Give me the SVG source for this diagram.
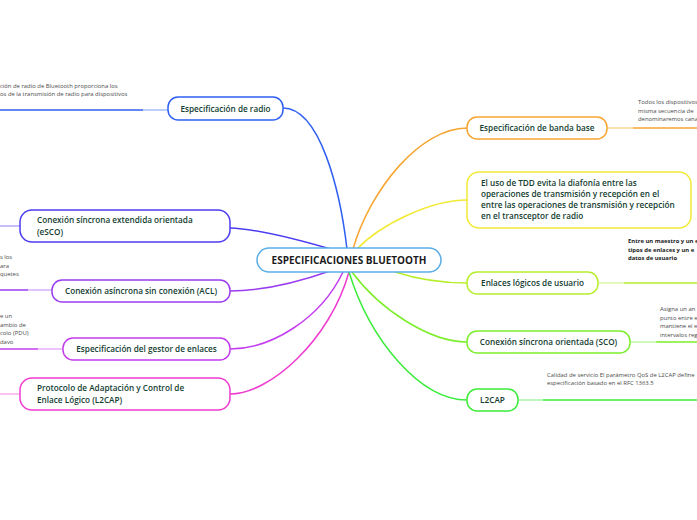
<svg xmlns="http://www.w3.org/2000/svg" width="697" height="520" viewBox="0 0 697 520">
  <style>
    .node rect { fill: #ffffff; stroke-width: 1.5; }
    .label { font-family: "Open Sans", "Liberation Sans", sans-serif; font-weight: 600; font-size: 8.2px; fill: #123d30; }
    .root { font-family: "Open Sans", "Liberation Sans", sans-serif; font-weight: 700; font-size: 10px; fill: #1a1a1a; }
    .note { font-family: "Open Sans", "Liberation Sans", sans-serif; font-size: 5.9px; fill: #4a4a4a; }
    .noteb { font-family: "Open Sans", "Liberation Sans", sans-serif; font-size: 5.9px; font-weight: 700; fill: #222222; }
    .conn path, .conn line { fill: none; stroke-width: 1.5; }
  </style>

  <!-- connectors -->
  <g id="connectors" class="conn">
    <!-- left branches -->
    <path d="M347,249 C340,190 320,108 283,108" stroke="#2f5ff0"/>
    <path d="M337,251 C300,240 260,229 230,228" stroke="#4b3cf0"/>
    <path d="M330,271 C290,285 260,291 230,291" stroke="#9a3cf0"/>
    <path d="M343,272 C320,320 270,349 230,349" stroke="#c43cf0"/>
    <path d="M349,272 C330,340 270,394 230,394" stroke="#ef3cd0"/>
    <!-- right branches -->
    <path d="M353,249 C370,190 420,128 467,128" stroke="#f7a531"/>
    <path d="M357,249 C380,225 430,200 467,200" stroke="#f2ea33"/>
    <path d="M395,272 C420,280 445,283 467,283" stroke="#b6ee2c"/>
    <path d="M352,272 C380,310 430,342 467,342" stroke="#7cee2c"/>
    <path d="M349,272 C370,340 420,400 467,400" stroke="#3bec3b"/>

    <!-- leaf lines: left -->
    <line x1="168" y1="110" x2="143" y2="110" stroke="#a9c0f8"/>
    <line x1="143" y1="110" x2="0" y2="110" stroke="#2f5ff0"/>
    <line x1="20" y1="226" x2="0" y2="226" stroke="#b3aaf8"/>
    <line x1="52" y1="290" x2="28" y2="290" stroke="#d3b1f8"/>
    <line x1="28" y1="290" x2="0" y2="290" stroke="#9a3cf0"/>
    <line x1="63" y1="349" x2="38" y2="349" stroke="#e6b1f8"/>
    <line x1="38" y1="349" x2="0" y2="349" stroke="#c43cf0"/>
    <line x1="20" y1="394" x2="0" y2="394" stroke="#f7b1ea"/>

    <!-- leaf lines: right -->
    <line x1="607" y1="128" x2="633" y2="128" stroke="#fbd49a"/>
    <line x1="633" y1="128" x2="697" y2="128" stroke="#f7a531"/>
    <line x1="598" y1="283" x2="624" y2="283" stroke="#dcf7a6"/>
    <line x1="624" y1="283" x2="697" y2="283" stroke="#b6ee2c"/>
    <line x1="630" y1="342" x2="656" y2="342" stroke="#bff7a6"/>
    <line x1="656" y1="342" x2="697" y2="342" stroke="#7cee2c"/>
    <line x1="518" y1="400" x2="543" y2="400" stroke="#a6f5a6"/>
    <line x1="543" y1="400" x2="697" y2="400" stroke="#3bec3b"/>
  </g>

  <!-- root -->
  <g id="root" class="node">
    <rect x="257" y="248" width="184" height="24" rx="12" stroke="#5aaee6"/>
    <text class="root" x="349" y="263.5" text-anchor="middle">ESPECIFICACIONES BLUETOOTH</text>
  </g>

  <!-- left side -->
  <g id="radio" class="node">
    <rect x="168" y="97" width="115" height="23" rx="10" stroke="#2f5ff0"/>
    <text class="label" x="225.5" y="111.5" text-anchor="middle">Especificación de radio</text>
  </g>
  <g id="radio-note">
    <text class="note" x="0" y="88">ción de radio de Bluetooth proporciona los</text>
    <text class="note" x="0" y="96">os de la transmisión de radio para dispositivos</text>
  </g>

  <g id="esco" class="node">
    <rect x="20" y="210" width="210" height="32" rx="12" stroke="#4b3cf0"/>
    <text class="label" x="37" y="223">Conexión síncrona extendida orientada</text>
    <text class="label" x="37" y="235">(eSCO)</text>
  </g>

  <g id="acl" class="node">
    <rect x="52" y="280" width="178" height="22" rx="10" stroke="#9a3cf0"/>
    <text class="label" x="141" y="294" text-anchor="middle">Conexión asíncrona sin conexión (ACL)</text>
  </g>
  <g id="acl-note">
    <text class="note" x="0" y="259">s los</text>
    <text class="note" x="0" y="267.5">ara</text>
    <text class="note" x="0" y="276">quetes</text>
  </g>

  <g id="lmp" class="node">
    <rect x="63" y="338" width="167" height="22" rx="10" stroke="#c43cf0"/>
    <text class="label" x="146.5" y="352" text-anchor="middle">Especificación del gestor de enlaces</text>
  </g>
  <g id="lmp-note">
    <text class="note" x="0" y="318">e un</text>
    <text class="note" x="0" y="326.5">ambio de</text>
    <text class="note" x="0" y="335">colo (PDU)</text>
    <text class="note" x="0" y="343.5">davo</text>
  </g>

  <g id="l2cap-proto" class="node">
    <rect x="20" y="378" width="210" height="32" rx="12" stroke="#ef3cd0"/>
    <text class="label" x="37" y="391">Protocolo de Adaptación y Control de</text>
    <text class="label" x="37" y="403">Enlace Lógico (L2CAP)</text>
  </g>

  <!-- right side -->
  <g id="baseband" class="node">
    <rect x="467" y="117" width="140" height="22" rx="10" stroke="#f7a531"/>
    <text class="label" x="537" y="131" text-anchor="middle">Especificación de banda base</text>
  </g>
  <g id="baseband-note">
    <text class="note" x="638" y="104">Todos los dispositivos</text>
    <text class="note" x="638" y="112.5">misma secuencia de</text>
    <text class="note" x="638" y="121">denominaremos canal</text>
  </g>

  <g id="tdd" class="node">
    <rect x="467" y="172" width="224" height="56" rx="12" stroke="#f2ea33"/>
    <text class="label" x="481" y="185.5">El uso de TDD evita la diafonía entre las</text>
    <text class="label" x="481" y="196.5">operaciones de transmisión y recepción en el</text>
    <text class="label" x="481" y="207.5">entre las operaciones de transmisión y recepción</text>
    <text class="label" x="481" y="218.5">en el transceptor de radio</text>
  </g>

  <g id="user-links" class="node">
    <rect x="467" y="272" width="131" height="22" rx="10" stroke="#b6ee2c"/>
    <text class="label" x="532.5" y="286" text-anchor="middle">Enlaces lógicos de usuario</text>
  </g>
  <g id="user-links-note">
    <text class="noteb" x="628" y="243">Entre un maestro y un e</text>
    <text class="noteb" x="628" y="251.5">tipos de enlaces y un e</text>
    <text class="noteb" x="628" y="260">datos de usuario</text>
  </g>

  <g id="sco" class="node">
    <rect x="467" y="331" width="163" height="22" rx="10" stroke="#7cee2c"/>
    <text class="label" x="548.5" y="345" text-anchor="middle">Conexión síncrona orientada (SCO)</text>
  </g>
  <g id="sco-note">
    <text class="note" x="660" y="311">Asigna un an</text>
    <text class="note" x="660" y="319.5">punto entre e</text>
    <text class="note" x="660" y="328">mantiene el e</text>
    <text class="note" x="660" y="336.5">intervalos reg</text>
  </g>

  <g id="l2cap" class="node">
    <rect x="467" y="389" width="51" height="22" rx="10" stroke="#3bec3b"/>
    <text class="label" x="492.5" y="403" text-anchor="middle">L2CAP</text>
  </g>
  <g id="l2cap-note">
    <text class="note" x="547" y="376.5">Calidad de servicio El parámetro QoS de L2CAP define</text>
    <text class="note" x="547" y="385">especificación basado en el RFC 1363.5</text>
  </g>
</svg>
